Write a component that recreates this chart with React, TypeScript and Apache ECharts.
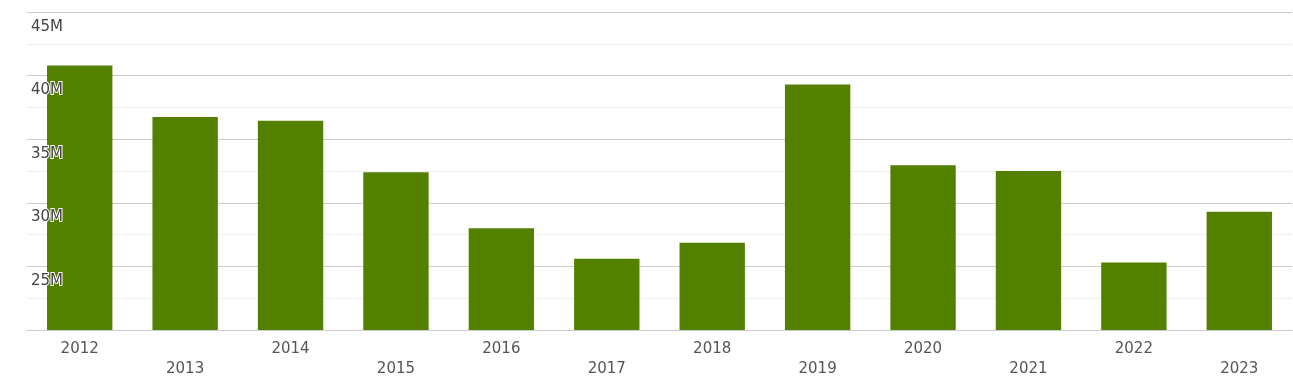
import React, { useEffect, useRef } from "react";
import * as echarts from "echarts";

const years = ["2012", "2013", "2014", "2015", "2016", "2017", "2018", "2019", "2020", "2021", "2022", "2023"];
const values = [40.8e6, 36.75e6, 36.45e6, 32.4e6, 28.0e6, 25.6e6, 26.85e6, 39.3e6, 32.95e6, 32.5e6, 25.3e6, 29.3e6];
const yMin = 20e6;
const yMax = 45e6;
const yInterval = 5e6;

const fmt = (v: number) => (v <= yMin ? "" : `${Math.round(v / 1e6)}M`);

export default function App() {
  const ref = useRef<HTMLDivElement>(null);
  useEffect(() => {
    if (!ref.current) return;
    const chart = echarts.init(ref.current, null, { renderer: "svg" });
    const font = "'DejaVu Sans', sans-serif";
    chart.setOption({
      animation: false,
      grid: { left: 27, right: 1, top: 12, bottom: 54, containLabel: false },
      xAxis: {
        type: "category",
        data: years,
        axisLine: { show: true, lineStyle: { color: "#cccccc" } },
        axisTick: { show: false },
        axisLabel: {
          interval: 0,
          color: "#555555",
          fontFamily: font,
          fontSize: 15,
          lineHeight: 20,
          margin: 8,
          formatter: (v: string, i: number) => (i % 2 === 1 ? "\n" + v : v),
        },
      },
      yAxis: [
        {
          type: "value",
          min: yMin,
          max: yMax,
          interval: yInterval,
          axisLine: { show: false },
          axisTick: { show: false },
          axisLabel: { show: false },
          splitLine: { show: true, lineStyle: { color: "#cccccc", width: 1 } },
          minorTick: { show: false, splitNumber: 2 },
          minorSplitLine: { show: true, lineStyle: { color: "#eeeeee", width: 1 } },
        },
        {
          type: "value",
          min: yMin,
          max: yMax,
          interval: yInterval,
          position: "left",
          z: 10,
          axisLine: { show: false },
          axisTick: { show: false },
          splitLine: { show: false },
          axisLabel: {
            inside: true,
            margin: 4,
            align: "left",
            verticalAlign: "top",
            padding: [6, 0, 0, 0],
            color: "#444444",
            fontFamily: font,
            fontSize: 15,
            textBorderColor: "#ffffff",
            textBorderWidth: 2,
            formatter: fmt,
          },
        },
      ],
      series: [
        {
          type: "bar",
          data: values,
          yAxisIndex: 0,
          barWidth: "62%",
          itemStyle: { color: "#548000" },
        },
      ],
    });
    return () => chart.dispose();
  }, []);
  return <div ref={ref} style={{ position: "fixed", left: 0, top: 0, width: 1293, height: 384 }} />;
}
